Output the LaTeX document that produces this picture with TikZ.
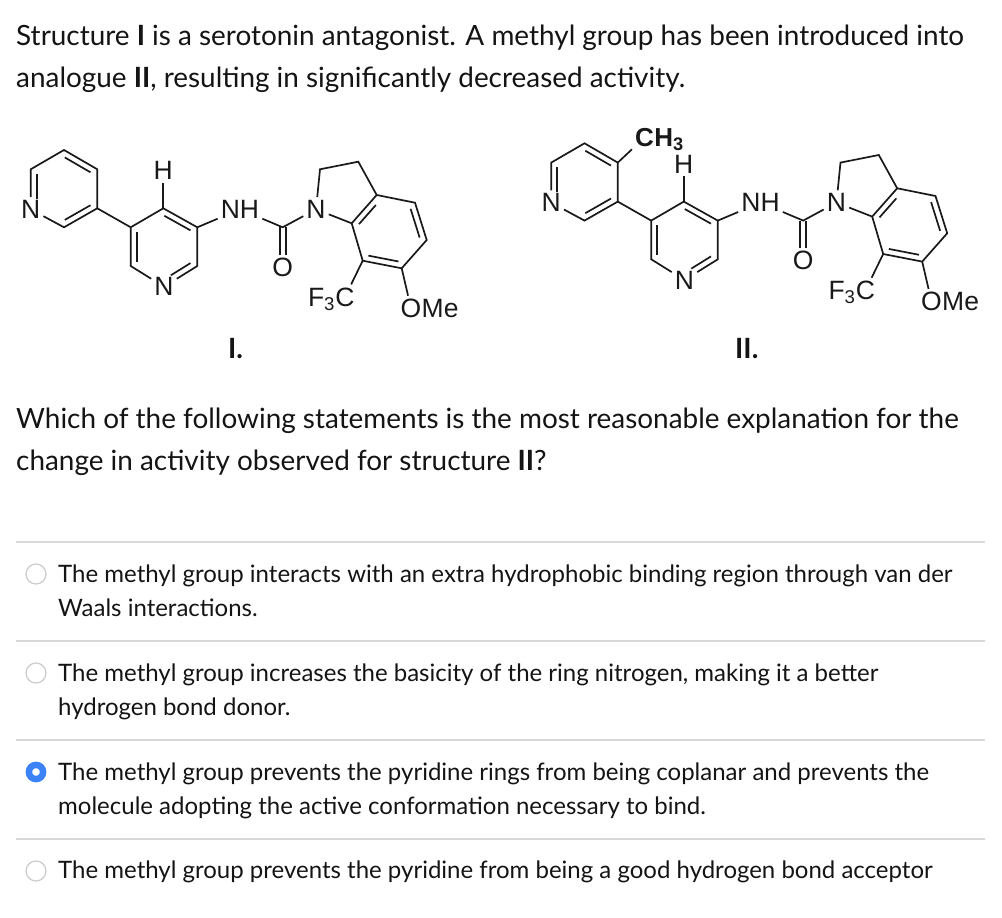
\documentclass[tikz,border=0pt]{standalone}
\usepackage{fontspec}
\setmainfont{Lato}
\newfontfamily\chemfont{Liberation Sans}
\usetikzlibrary{calc,positioning}

\tikzset{
    bond/.style={line width=1.7pt, black!90},
    atom/.style={inner sep=3pt, font=\chemfont\fontsize{26.5}{30}\selectfont, black!90},
    atomtail/.style={inner sep=0pt, font=\chemfont\fontsize{26.5}{30}\selectfont, black!90},
    methyl/.style={font=\chemfont\bfseries\fontsize{26}{30}\selectfont},
    headline/.style={anchor=base west, inner sep=0pt, font=\fontsize{27.9}{34}\selectfont, black!92},
    optionline/.style={anchor=base west, inner sep=0pt, font=\fontsize{24}{30}\selectfont, black!92},
    rule/.style={line width=1.5pt, black!15},
    radio/.style={circle, minimum size=20pt, inner sep=0pt, draw=black!20, line width=1.2pt, fill=white},
    radioset/.style={circle, minimum size=14.2pt, inner sep=0pt, draw=radioblue, line width=6.5pt, fill=white},
}
\definecolor{radioblue}{HTML}{3B82F6}

% inner line of a double bond: start, end, ring centre, gap at the start
\newcommand{\innerbond}[4]{
    \draw[bond] ($($(#1)!#4!(#2)$)!0.18!(#3)$) -- ($($(#2)!0.03!(#1)$)!0.18!(#3)$);
}

% the part that both structures share
\newcommand{\skeleton}{
    % first pyridine
    \node[atom] (n1) at (30.7,209.3) {N};
    \coordinate (a2) at (30.7,169.3);
    \coordinate (a3) at (64,150);
    \coordinate (a4) at (97.3,169.3);
    \coordinate (a5) at (97.3,208.3);
    \coordinate (a6) at (64,227.3);
    \coordinate (ca) at (64,188.7);
    \draw[bond] (n1) -- (a2) -- (a3) -- (a4) -- (a5) -- (a6) -- (n1);
    \innerbond{n1}{a2}{ca}{0.2}
    \innerbond{a3}{a4}{ca}{0.03}
    \innerbond{a5}{a6}{ca}{0.03}

    % second pyridine
    \coordinate (b1) at (130.7,227.3);
    \coordinate (b2) at (163.3,208.3);
    \coordinate (b3) at (197.3,227.3);
    \coordinate (b4) at (197.3,266);
    \node[atom] (n2) at (164,286.7) {N};
    \coordinate (b6) at (130.7,266);
    \coordinate (cb) at (164,247);
    \node[atom] (h) at (163.3,170.7) {H};
    \draw[bond] (b1) -- (b2) -- (b3) -- (b4) -- (n2) -- (b6) -- (b1);
    \draw[bond] (a5) -- (b1);
    \draw[bond] (b2) -- (h);
    \innerbond{b6}{b1}{cb}{0.03}
    \innerbond{b2}{b3}{cb}{0.03}
    \innerbond{n2}{b4}{cb}{0.25}

    % urea
    \node[atom] (nh) at (240,209.3) {NH};
    \coordinate (co) at (282.7,227.3);
    \node[atom] (o) at (282.7,267.3) {O};
    \node[atom] (n3) at (316,209.3) {N};
    \draw[bond] (b3) -- (nh);
    \draw[bond] (nh) -- (co) -- (n3);
    \draw[bond] ([xshift=-3pt]co) -- ([xshift=-3pt]o.north);
    \draw[bond] ([xshift=3pt]co) -- ([xshift=3pt]o.north);

    % indoline
    \coordinate (d1) at (320,169.3);
    \coordinate (d2) at (358.3,161.7);
    \coordinate (e1) at (376.7,195);
    \coordinate (e2) at (415,202.7);
    \coordinate (e3) at (426.7,240);
    \coordinate (e4) at (401.7,268.3);
    \coordinate (e5) at (362.7,260.7);
    \coordinate (e6) at (351.7,223.3);
    \coordinate (ce) at (389,231.5);
    \draw[bond] (n3) -- (d1) -- (d2) -- (e1) -- (e2) -- (e3) -- (e4) -- (e5) -- (e6) -- (e1);
    \draw[bond] (e6) -- (n3);
    \innerbond{e1}{e6}{ce}{0.15}
    \innerbond{e2}{e3}{ce}{0.03}
    \innerbond{e4}{e5}{ce}{0.03}

    % substituents
    \node[atom] (cf) at (345,297) {C};
    \node[atomtail, base left=-3pt of cf] (ff) {F\textsubscript{3}};
    \node[atom] (ome) at (411,308.3) {O};
    \node[atomtail, base right=-3pt of ome] (me) {Me};
    \draw[bond] (e5) -- (cf);
    \draw[bond] (e4) -- (ome);
}

\begin{document}
\begin{tikzpicture}[x=1pt, y=-1pt]
    \useasboundingbox (0,0) rectangle (1002,918);

    % question
    \node[headline] (q1) at (16,45.5) {Structure {\bfseries I} is a serotonin antagonist. A methyl group has been introduced into};
    \node[headline] (q2) at (16,87.5) {analogue {\bfseries II}, resulting in significantly decreased activity.};

    % structures
    \begin{scope}[name prefix=one-]
        \skeleton
    \end{scope}
    \begin{scope}[name prefix=two-, shift={(520.5,-6.7)}]
        \skeleton
        \node[atom, methyl] (ch) at (124,144.2) {C};
        \node[atomtail, methyl, base right=-3pt of ch] (hh) {H\textsubscript{3}};
        \draw[bond] (a4) -- (ch);
    \end{scope}
    \node[headline, font=\bfseries\fontsize{27.9}{34}\selectfont] (one) at (228,358) {I.};
    \node[headline, font=\bfseries\fontsize{27.9}{34}\selectfont] (two) at (735,358) {II.};

    \node[headline] (q3) at (16,428) {Which of the following statements is the most reasonable explanation for the};
    \node[headline] (q4) at (16,470) {change in activity observed for structure {\bfseries II}?};

    % answers
    \draw[rule] (16,542) -- (985,542);
    \draw[rule] (16,641) -- (985,641);
    \draw[rule] (16,740) -- (985,740);
    \draw[rule] (16,839) -- (985,839);

    \node[radio] (r1) at (36,574) {};
    \node[radio] (r2) at (36,673) {};
    \node[radioset] (r3) at (36,772) {};
    \node[radio] (r4) at (36,871) {};

    \node[optionline] (a1) at (58,582) {The methyl group interacts with an extra hydrophobic binding region through van der};
    \node[optionline] (a1b) at (58,616) {Waals interactions.};
    \node[optionline] (a2) at (58,681) {The methyl group increases the basicity of the ring nitrogen, making it a better};
    \node[optionline] (a2b) at (58,715) {hydrogen bond donor.};
    \node[optionline] (a3) at (58,780) {The methyl group prevents the pyridine rings from being coplanar and prevents the};
    \node[optionline] (a3b) at (58,814) {molecule adopting the active conformation necessary to bind.};
    \node[optionline] (a4) at (58,878) {The methyl group prevents the pyridine from being a good hydrogen bond acceptor};
\end{tikzpicture}
\end{document}
